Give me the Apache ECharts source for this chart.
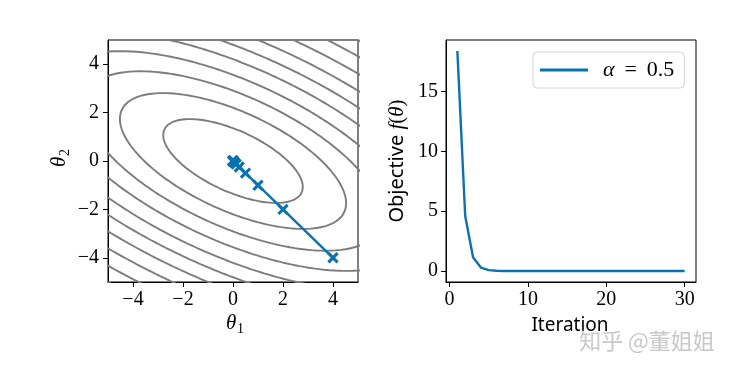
<!DOCTYPE html>
<html>
<head>
<meta charset="utf-8">
<script src="https://cdn.jsdelivr.net/npm/echarts@6/dist/echarts.min.js"></script>
<style>html,body{margin:0;padding:0;background:#fff}#c{width:734px;height:370px}</style>
</head>
<body>
<div id="c"></div>
<script>
// ---- data ----
// quadratic form of the contoured objective: f = a*t1^2 + 2*b*t1*t2 + c*t2^2
const quadForm = [1.0, 1.0, 2.6];
const contourLevels = [4.8, 12.6, 22, 33, 46, 60, 76, 95, 117, 140, 165];
// gradient-descent iterates (theta1, theta2)
const pathTheta1 = [4, 2, 1, 0.5, 0.25, 0.125, 0.06, 0.03, 0.015, 0.008, 0.004, 0.002, 0.001, 0.0005, 0.0002, 0.0001, 0, 0, 0, 0, 0, 0, 0, 0, 0, 0, 0, 0, 0, 0];
const pathTheta2 = [-4, -2, -1, -0.5, -0.25, -0.125, -0.06, -0.03, -0.015, -0.008, -0.004, -0.002, -0.001, -0.0005, -0.0002, -0.0001, 0, 0, 0, 0, 0, 0, 0, 0, 0, 0, 0, 0, 0, 0];
// objective per iteration
const iterations = [1,2,3,4,5,6,7,8,9,10,11,12,13,14,15,16,17,18,19,20,21,22,23,24,25,26,27,28,29,30];
const objectiveValues = [18.4, 4.6, 1.15, 0.29, 0.072, 0.018, 0.0045, 0.0011, 0.0003, 0.0001, 0, 0, 0, 0, 0, 0, 0, 0, 0, 0, 0, 0, 0, 0, 0, 0, 0, 0, 0, 0];
const thetaTicks = [-4, -2, 0, 2, 4];
const iterTicks = [0, 10, 20, 30];
const objTicks = [0, 5, 10, 15];
const legendLabel = 'α = 0.5';

// ---- build ----
const BLUE = '#0a72b0';
const SERIF = '"Liberation Serif", "DejaVu Serif", serif';
const SANS = '"Noto Sans", "DejaVu Sans", sans-serif';
const fmt = v => (v < 0 ? '\u2212' + (-v) : String(v));

function ellipse(level) {
  const [a, b, c] = quadForm;
  const pts = [];
  const n = 240;
  for (let i = 0; i <= n; i++) {
    const p = (i / n) * Math.PI * 2;
    const ux = Math.cos(p), uy = Math.sin(p);
    const q = a * ux * ux + 2 * b * ux * uy + c * uy * uy;
    const r = Math.sqrt(level / q);
    pts.push([r * ux, r * uy]);
  }
  return pts;
}

const contourSeries = contourLevels.map(L => ({
  type: 'line', xAxisIndex: 0, yAxisIndex: 0, data: ellipse(L),
  showSymbol: false, symbol: 'none', silent: true, clip: true, z: 1,
  lineStyle: { color: '#7c7c7c', width: 1.9 }, animation: false
}));

const cross = 'path://M3.8,0H6.2V3.8H10V6.2H6.2V10H3.8V6.2H0V3.8H3.8Z';

function axisCommon(min, max, ticks, margin) {
  return {
    type: 'value', min: min, max: max,
    splitLine: { show: false },
    axisLine: { show: true, onZero: false, lineStyle: { color: '#000', width: 1 } },
    axisTick: { show: true, inside: false, length: 5, lineStyle: { color: '#000', width: 1 }, customValues: ticks },
    axisLabel: { show: true, customValues: ticks, formatter: fmt, margin: margin, color: '#000', fontFamily: SERIF, fontSize: 20 }
  };
}

const option = {
  animation: false,
  backgroundColor: '#fff',
  grid: [
    { left: 108, top: 40, width: 250, height: 242, show: true, borderColor: '#000', borderWidth: 1, backgroundColor: 'transparent' },
    { left: 446, top: 40, width: 250, height: 242, show: true, borderColor: '#000', borderWidth: 1, backgroundColor: 'transparent' }
  ],
  xAxis: [
    Object.assign(axisCommon(-5, 5, thetaTicks, 8), { gridIndex: 0 }),
    Object.assign(axisCommon(-0.45, 31.45, iterTicks, 8), { gridIndex: 1 })
  ],
  yAxis: [
    Object.assign(axisCommon(-5, 5, thetaTicks, 9), { gridIndex: 0 }),
    Object.assign(axisCommon(-0.92, 19.32, objTicks, 8), { gridIndex: 1 })
  ],
  legend: {
    data: [legendLabel],
    left: 533, top: 52,
    orient: 'horizontal',
    padding: [7, 10, 7, 7],
    backgroundColor: 'rgba(255,255,255,0.8)',
    borderColor: '#d4d4d4', borderWidth: 1, borderRadius: 4,
    itemWidth: 48, itemHeight: 3, icon: 'rect',
    formatter: () => '{a|α}\u2009 = \u20090.5',
    textStyle: {
      fontFamily: SERIF, fontSize: 22, color: '#000', padding: [0, 0, 0, 10],
      rich: { a: { fontFamily: SERIF, fontStyle: 'italic', fontSize: 22, color: '#000' } }
    }
  },
  series: contourSeries.concat([
    {
      type: 'line', xAxisIndex: 0, yAxisIndex: 0, z: 5,
      data: pathTheta1.map((x, i) => [x, pathTheta2[i]]),
      lineStyle: { color: BLUE, width: 2.4 },
      symbol: cross, symbolSize: 13, symbolRotate: 45, showSymbol: true, showAllSymbol: true,
      itemStyle: { color: BLUE }, clip: true
    },
    {
      name: legendLabel,
      type: 'line', xAxisIndex: 1, yAxisIndex: 1, z: 5,
      data: iterations.map((x, i) => [x, objectiveValues[i]]),
      lineStyle: { color: BLUE, width: 2.4 }, itemStyle: { color: BLUE },
      showSymbol: false, symbol: 'none'
    }
  ]),
  graphic: [
    { type: 'text', x: 226, y: 313, style: { text: 'θ', font: 'italic 21px ' + SERIF, fill: '#000' } },
    { type: 'text', x: 237, y: 322, style: { text: '1', font: '14px ' + SERIF, fill: '#000' } },
    { type: 'group', x: 61, y: 160, rotation: Math.PI / 2, children: [
      { type: 'text', x: -7, y: -12, style: { text: 'θ', font: 'italic 21px ' + SERIF, fill: '#000' } },
      { type: 'text', x: 4, y: -3, style: { text: '2', font: '14px ' + SERIF, fill: '#000' } }
    ] },
    { type: 'text', x: 570, y: 326, style: { text: 'Iteration', font: '19px ' + SANS, fill: '#000', align: 'center', verticalAlign: 'middle' } },
    { type: 'text', x: 397, y: 161, rotation: Math.PI / 2, style: {
      text: '{s|Objective }{m|f}{n|(}{m|θ}{n|)}', align: 'center', verticalAlign: 'middle',
      rich: {
        s: { font: '20px ' + SANS, fill: '#000' },
        m: { font: 'italic 21px ' + SERIF, fill: '#000' },
        n: { font: '21px ' + SERIF, fill: '#000' }
      }
    } },
    { type: 'text', x: 647, y: 341, z: 100, style: { text: '知乎 @董姐姐', font: '22px "Noto Sans CJK SC"', fill: 'rgba(190,190,190,0.85)', align: 'center', verticalAlign: 'middle' } }
  ]
};

const chart = echarts.init(document.getElementById('c'), null, { renderer: 'canvas' });
chart.setOption(option);
</script>
</body>
</html>
